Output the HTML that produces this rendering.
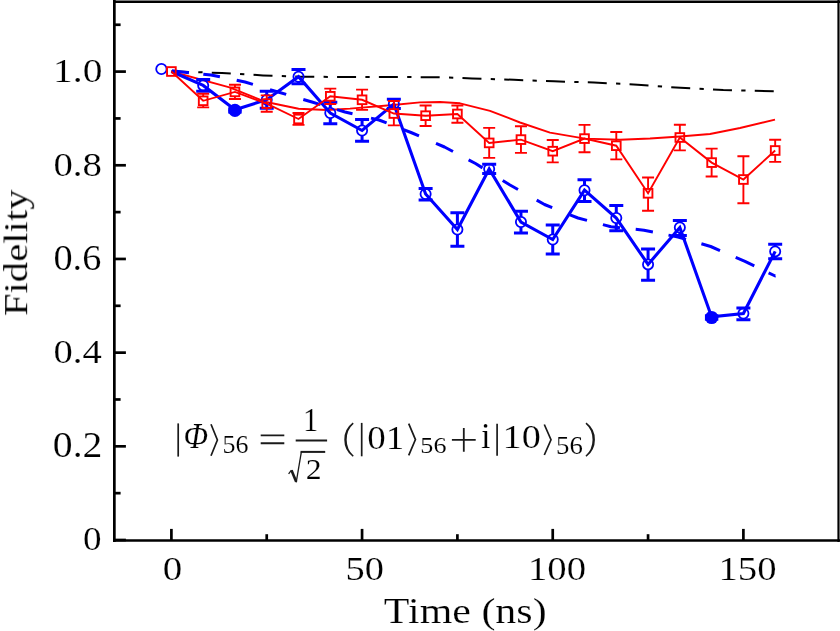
<!DOCTYPE html><html><head><meta charset="utf-8"><style>html,body{margin:0;padding:0;background:#fff;width:840px;height:631px;overflow:hidden}svg{display:block}</style></head><body>
<svg width="840" height="631" viewBox="0 0 840 631">
<rect x="0" y="0" width="840" height="631" fill="#fff"/>
<g stroke="#000" fill="none">
<path stroke-width="2.7" d="M114.35,0 V541.9"/>
<path stroke-width="2.5" d="M113,540.6 H840"/>
<path stroke-width="2.4" d="M113,1.8 H840"/>
<path stroke-width="2.2" d="M838.5,0 V541.9"/>
</g>
<g stroke="#000" stroke-width="2.7" fill="none">
<path d="M114.4,540.00 H125.90"/>
<path d="M114.4,493.16 H120.60"/>
<path d="M114.4,446.32 H125.90"/>
<path d="M114.4,399.48 H120.60"/>
<path d="M114.4,352.64 H125.90"/>
<path d="M114.4,305.80 H120.60"/>
<path d="M114.4,258.96 H125.90"/>
<path d="M114.4,212.12 H120.60"/>
<path d="M114.4,165.28 H125.90"/>
<path d="M114.4,118.44 H120.60"/>
<path d="M114.4,71.60 H125.90"/>
<path d="M114.4,24.76 H120.60"/>
<path d="M171.40,540.4 V528.90"/>
<path d="M266.73,540.4 V534.20"/>
<path d="M362.06,540.4 V528.90"/>
<path d="M457.40,540.4 V534.20"/>
<path d="M552.73,540.4 V528.90"/>
<path d="M648.06,540.4 V534.20"/>
<path d="M743.39,540.4 V528.90"/>
</g>
<polyline points="171.40,71.30 222.00,73.00 263.00,75.40 300.00,76.80 440.00,77.20 472.00,78.50 514.00,79.80 554.00,81.30 594.00,82.50 637.60,84.70 680.50,87.80 723.30,90.00 775.00,91.30" fill="none" stroke="#000" stroke-width="2" stroke-dasharray="19 9.3 4.3 9.2" stroke-dashoffset="1.4"/>
<polyline points="171.40,71.50 229.50,87.40 265.00,101.70 298.60,108.80 327.00,110.00 350.00,108.60 393.00,105.00 420.00,102.40 440.00,102.00 460.00,103.30 490.00,110.80 520.00,122.50 550.00,132.60 585.00,138.60 620.00,139.80 650.00,138.50 680.00,136.50 710.00,134.00 740.00,128.00 775.00,119.60" fill="none" stroke="#f00" stroke-width="1.9" stroke-linejoin="round"/>
<path d="M171.90,70.85 L189.00,72.67 M203.30,74.18 L211.00,75.00 L219.90,76.83 M236.70,80.29 L245.00,82.00 L252.90,84.39 M270.00,89.58 L278.00,92.00 L286.20,94.41 M303.30,99.44 L312.00,102.00 L320.50,104.58 M337.00,109.58 L345.00,112.00 L352.50,113.76 M371.00,118.12 L379.00,120.00 L386.60,122.97 M403.60,129.61 L411.00,132.50 L419.00,135.96 M436.00,143.32 L444.50,147.00 L453.00,151.52 M468.60,159.83 L475.50,163.50 L482.50,167.86 M502.70,180.45 L510.00,185.00 L518.00,189.52 M536.70,200.09 L544.50,204.50 L552.20,207.60 M570.00,214.78 L578.00,218.00 L587.00,220.40 M602.90,224.64 L611.00,226.80 L620.00,227.73 M635.70,229.34 L644.00,230.20 L652.90,231.98 M668.50,235.10 L678.00,237.00 L686.00,239.32 M701.40,243.80 L710.70,246.50 L720.00,250.54 M735.70,257.36 L745.00,261.40 L754.30,265.90 M768.60,272.81 L775.20,276.00 L775.70,276.00" fill="none" stroke="#00f" stroke-width="3" stroke-linejoin="round"/>
<polyline points="171.40,71.50 203.18,85.40 234.96,109.80 266.73,99.70 298.51,76.70 330.29,113.00 362.07,130.50 393.85,104.00 425.62,194.00 457.40,229.50 489.18,169.00 520.96,222.00 552.74,239.50 584.51,190.20 616.29,218.00 648.07,264.40 679.85,227.50 711.63,316.90 743.40,313.50 775.18,251.40" fill="none" stroke="#00f" stroke-width="3.1" stroke-linejoin="miter"/>
<g stroke="#00f" fill="none">
<path stroke-width="3" d="M203.18,79.40 V80.40 M203.18,90.40 V91.30 M196.18,79.40 H210.18 M196.18,91.30 H210.18"/>
<circle cx="203.18" cy="85.40" r="5.1" stroke-width="1.8"/>
<circle cx="234.96" cy="110.40" r="6.6" stroke="none" fill="#00f"/>
<rect x="228.26" y="107.20" width="13.4" height="6.4" stroke="none" fill="#00f"/>
<path stroke-width="3" d="M266.73,91.20 V94.70 M266.73,104.70 V108.20 M259.73,91.20 H273.73 M259.73,108.20 H273.73"/>
<circle cx="266.73" cy="99.70" r="5.1" stroke-width="1.8"/>
<path stroke-width="3" d="M298.51,69.50 V71.70 M298.51,81.70 V83.80 M291.51,69.50 H305.51 M291.51,83.80 H305.51"/>
<circle cx="298.51" cy="76.70" r="5.1" stroke-width="1.8"/>
<path stroke-width="3" d="M330.29,102.30 V108.00 M330.29,118.00 V123.70 M323.29,102.30 H337.29 M323.29,123.70 H337.29"/>
<circle cx="330.29" cy="113.00" r="5.1" stroke-width="1.8"/>
<path stroke-width="3" d="M362.07,119.60 V125.50 M362.07,135.50 V141.20 M355.07,119.60 H369.07 M355.07,141.20 H369.07"/>
<circle cx="362.07" cy="130.50" r="5.1" stroke-width="1.8"/>
<path stroke-width="3" d="M393.85,99.20 V99.00 M393.85,109.00 V108.50 M386.85,99.20 H400.85 M386.85,108.50 H400.85"/>
<circle cx="393.85" cy="104.00" r="5.1" stroke-width="1.8"/>
<path stroke-width="3" d="M425.62,188.60 V189.00 M425.62,199.00 V200.00 M418.62,188.60 H432.62 M418.62,200.00 H432.62"/>
<circle cx="425.62" cy="194.00" r="5.1" stroke-width="1.8"/>
<path stroke-width="3" d="M457.40,212.70 V224.50 M457.40,234.50 V246.30 M450.40,212.70 H464.40 M450.40,246.30 H464.40"/>
<circle cx="457.40" cy="229.50" r="5.1" stroke-width="1.8"/>
<path stroke-width="3" d="M489.18,164.20 V164.00 M489.18,174.00 V173.40 M482.18,164.20 H496.18 M482.18,173.40 H496.18"/>
<circle cx="489.18" cy="169.00" r="5.1" stroke-width="1.8"/>
<path stroke-width="3" d="M520.96,211.20 V217.00 M520.96,227.00 V233.00 M513.96,211.20 H527.96 M513.96,233.00 H527.96"/>
<circle cx="520.96" cy="222.00" r="5.1" stroke-width="1.8"/>
<path stroke-width="3" d="M552.74,225.00 V234.50 M552.74,244.50 V254.00 M545.74,225.00 H559.74 M545.74,254.00 H559.74"/>
<circle cx="552.74" cy="239.50" r="5.1" stroke-width="1.8"/>
<path stroke-width="3" d="M584.51,179.70 V185.20 M584.51,195.20 V201.50 M577.51,179.70 H591.51 M577.51,201.50 H591.51"/>
<circle cx="584.51" cy="190.20" r="5.1" stroke-width="1.8"/>
<path stroke-width="3" d="M616.29,205.40 V213.00 M616.29,223.00 V230.70 M609.29,205.40 H623.29 M609.29,230.70 H623.29"/>
<circle cx="616.29" cy="218.00" r="5.1" stroke-width="1.8"/>
<path stroke-width="3" d="M648.07,248.90 V259.40 M648.07,269.40 V280.30 M641.07,248.90 H655.07 M641.07,280.30 H655.07"/>
<circle cx="648.07" cy="264.40" r="5.1" stroke-width="1.8"/>
<path stroke-width="3" d="M679.85,220.50 V222.50 M679.85,232.50 V235.50 M672.85,220.50 H686.85 M672.85,235.50 H686.85"/>
<circle cx="679.85" cy="227.50" r="5.1" stroke-width="1.8"/>
<circle cx="711.63" cy="317.50" r="6.6" stroke="none" fill="#00f"/>
<rect x="704.93" y="314.30" width="13.4" height="6.4" stroke="none" fill="#00f"/>
<path stroke-width="3" d="M743.40,308.00 V308.50 M743.40,318.50 V319.70 M736.40,308.00 H750.40 M736.40,319.70 H750.40"/>
<circle cx="743.40" cy="313.50" r="5.1" stroke-width="1.8"/>
<path stroke-width="3" d="M775.18,244.30 V246.40 M775.18,256.40 V258.80 M768.18,244.30 H782.18 M768.18,258.80 H782.18"/>
<circle cx="775.18" cy="251.40" r="5.1" stroke-width="1.8"/>
<circle cx="161.4" cy="69" r="5.2" stroke-width="1.8"/>
</g>
<polyline points="171.40,71.50 203.18,100.80 234.96,91.90 266.73,103.60 298.51,119.00 330.29,96.30 362.07,99.80 393.85,113.50 425.62,115.70 457.40,114.00 489.18,142.90 520.96,139.60 552.74,151.20 584.51,138.60 616.29,145.70 648.07,193.30 679.85,137.50 711.63,162.60 743.40,179.50 775.18,150.50" fill="none" stroke="#f00" stroke-width="1.9" stroke-linejoin="miter"/>
<g stroke="#f00" stroke-width="1.9" fill="none">
<rect x="167.05" y="67.15" width="8.7" height="8.7"/>
<path d="M203.18,93.70 V96.45 M203.18,105.15 V107.40 M197.18,93.70 H209.18 M197.18,107.40 H209.18"/>
<rect x="198.83" y="96.45" width="8.7" height="8.7"/>
<path d="M234.96,84.80 V87.55 M234.96,96.25 V99.00 M228.96,84.80 H240.96 M228.96,99.00 H240.96"/>
<rect x="230.61" y="87.55" width="8.7" height="8.7"/>
<path d="M266.73,95.40 V99.25 M266.73,107.95 V111.80 M260.73,95.40 H272.73 M260.73,111.80 H272.73"/>
<rect x="262.38" y="99.25" width="8.7" height="8.7"/>
<path d="M298.51,113.00 V114.65 M298.51,123.35 V124.90 M292.51,113.00 H304.51 M292.51,124.90 H304.51"/>
<rect x="294.16" y="114.65" width="8.7" height="8.7"/>
<path d="M330.29,88.60 V91.95 M330.29,100.65 V104.00 M324.29,88.60 H336.29 M324.29,104.00 H336.29"/>
<rect x="325.94" y="91.95" width="8.7" height="8.7"/>
<path d="M362.07,89.60 V95.45 M362.07,104.15 V109.90 M356.07,89.60 H368.07 M356.07,109.90 H368.07"/>
<rect x="357.72" y="95.45" width="8.7" height="8.7"/>
<path d="M393.85,101.00 V109.15 M393.85,117.85 V125.40 M387.85,101.00 H399.85 M387.85,125.40 H399.85"/>
<rect x="389.50" y="109.15" width="8.7" height="8.7"/>
<path d="M425.62,105.50 V111.35 M425.62,120.05 V126.00 M419.62,105.50 H431.62 M419.62,126.00 H431.62"/>
<rect x="421.27" y="111.35" width="8.7" height="8.7"/>
<path d="M457.40,105.50 V109.65 M457.40,118.35 V122.70 M451.40,105.50 H463.40 M451.40,122.70 H463.40"/>
<rect x="453.05" y="109.65" width="8.7" height="8.7"/>
<path d="M489.18,127.90 V138.55 M489.18,147.25 V157.90 M483.18,127.90 H495.18 M483.18,157.90 H495.18"/>
<rect x="484.83" y="138.55" width="8.7" height="8.7"/>
<path d="M520.96,126.30 V135.25 M520.96,143.95 V152.90 M514.96,126.30 H526.96 M514.96,152.90 H526.96"/>
<rect x="516.61" y="135.25" width="8.7" height="8.7"/>
<path d="M552.74,140.00 V146.85 M552.74,155.55 V162.40 M546.74,140.00 H558.74 M546.74,162.40 H558.74"/>
<rect x="548.39" y="146.85" width="8.7" height="8.7"/>
<path d="M584.51,124.90 V134.25 M584.51,142.95 V152.30 M578.51,124.90 H590.51 M578.51,152.30 H590.51"/>
<rect x="580.16" y="134.25" width="8.7" height="8.7"/>
<path d="M616.29,132.00 V141.35 M616.29,150.05 V159.40 M610.29,132.00 H622.29 M610.29,159.40 H622.29"/>
<rect x="611.94" y="141.35" width="8.7" height="8.7"/>
<path d="M648.07,177.50 V188.95 M648.07,197.65 V210.70 M642.07,177.50 H654.07 M642.07,210.70 H654.07"/>
<rect x="643.72" y="188.95" width="8.7" height="8.7"/>
<path d="M679.85,124.70 V133.15 M679.85,141.85 V150.40 M673.85,124.70 H685.85 M673.85,150.40 H685.85"/>
<rect x="675.50" y="133.15" width="8.7" height="8.7"/>
<path d="M711.63,148.60 V158.25 M711.63,166.95 V176.50 M705.63,148.60 H717.63 M705.63,176.50 H717.63"/>
<rect x="707.28" y="158.25" width="8.7" height="8.7"/>
<path d="M743.40,156.30 V175.15 M743.40,183.85 V203.20 M737.40,156.30 H749.40 M737.40,203.20 H749.40"/>
<rect x="739.05" y="175.15" width="8.7" height="8.7"/>
<path d="M775.18,139.80 V146.15 M775.18,154.85 V161.90 M769.18,139.80 H781.18 M769.18,161.90 H781.18"/>
<rect x="770.83" y="146.15" width="8.7" height="8.7"/>
</g>
<g style="will-change:transform" stroke="#fff" stroke-width="0.5">
<text transform="matrix(0.39509 0 0 0.33529 53.094 82.129)" font-family="Liberation Serif" font-style="normal" font-size="100" fill="#000">1.0</text>
<text transform="matrix(0.38803 0 0 0.33582 53.448 175.728)" font-family="Liberation Serif" font-style="normal" font-size="100" fill="#000">0.8</text>
<text transform="matrix(0.38305 0 0 0.35224 53.468 269.996)" font-family="Liberation Serif" font-style="normal" font-size="100" fill="#000">0.6</text>
<text transform="matrix(0.38655 0 0 0.34627 53.454 363.007)" font-family="Liberation Serif" font-style="normal" font-size="100" fill="#000">0.4</text>
<text transform="matrix(0.39652 0 0 0.34925 52.814 457.101)" font-family="Liberation Serif" font-style="normal" font-size="100" fill="#000">0.2</text>
<text transform="matrix(0.37143 0 0 0.34030 82.914 550.319)" font-family="Liberation Serif" font-style="normal" font-size="100" fill="#000">0</text>
<text transform="matrix(0.39048 0 0 0.34478 162.738 579.710)" font-family="Liberation Serif" font-style="normal" font-size="100" fill="#000">0</text>
<text transform="matrix(0.38444 0 0 0.34179 345.593 579.716)" font-family="Liberation Serif" font-style="normal" font-size="100" fill="#000">50</text>
<text transform="matrix(0.38759 0 0 0.34559 527.912 579.809)" font-family="Liberation Serif" font-style="normal" font-size="100" fill="#000">100</text>
<text transform="matrix(0.38686 0 0 0.34559 718.518 579.809)" font-family="Liberation Serif" font-style="normal" font-size="100" fill="#000">150</text>
<text transform="matrix(0.41963 0 0 0.36031 383.861 623.200)" font-family="Liberation Serif" font-size="100" fill="#000">Time (ns)</text>
<text transform="translate(27.540 316.122) rotate(-90) scale(0.40747 0.32667)" font-family="Liberation Serif" font-size="100" fill="#000">Fidelity</text>
<text transform="matrix(0.32353 0 0 0.35385 183.382 448.000)" font-family="Liberation Serif" font-style="italic" font-size="100" fill="#000">Φ</text>
<text transform="matrix(0.25934 0 0 0.24179 222.544 453.416)" font-family="Liberation Serif" font-style="normal" font-size="100" fill="#000">56</text>
<text transform="matrix(0.30571 0 0 0.34545 302.949 430.700)" font-family="Liberation Serif" font-style="normal" font-size="100" fill="#000">1</text>
<text transform="matrix(0.31750 0 0 0.30462 305.630 478.800)" font-family="Liberation Serif" font-style="normal" font-size="100" fill="#000">2</text>
<text transform="matrix(0.37056 0 0 0.34412 367.268 448.512)" font-family="Liberation Serif" font-style="normal" font-size="100" fill="#000">01</text>
<text transform="matrix(0.26154 0 0 0.24030 420.331 453.219)" font-family="Liberation Serif" font-style="normal" font-size="100" fill="#000">56</text>
<text transform="matrix(0.34583 0 0 0.34769 481.008 448.100)" font-family="Liberation Serif" font-style="normal" font-size="100" fill="#000">i</text>
<text transform="matrix(0.38276 0 0 0.34118 502.555 448.018)" font-family="Liberation Serif" font-style="normal" font-size="100" fill="#000">10</text>
<text transform="matrix(0.26813 0 0 0.24776 556.091 453.504)" font-family="Liberation Serif" font-style="normal" font-size="100" fill="#000">56</text>
</g>
<g stroke="#1a1a1a" fill="none" stroke-width="1.7">
<path d="M178.20,423.40 V456.60"/>
<path d="M361.70,422.90 V456.30"/>
<path d="M497.10,423.70 V455.80"/>
<path d="M211.00,424.20 L217.40,440.00 L211.00,455.80"/>
<path d="M408.70,423.70 L415.45,439.57 L408.70,455.45"/>
<path d="M544.30,424.50 L551.00,439.75 L544.30,455.00"/>
<path stroke-width="2" d="M295.7,440.5 H327.1"/>
<path stroke-width="1.9" d="M260.7,435.4 H284.3 M260.7,443.2 H284.3"/>
<path stroke-width="1.8" d="M451.9,439.8 H475.7 M463.8,427.9 V451.7"/>
<path stroke-width="1.5" d="M353.2,423.2 C342.3,431.5 342.3,447.9 353.2,456.2 M353.2,423.2 C343.5,431.5 343.5,447.9 353.2,456.2"/>
<path stroke-width="1.5" d="M586.0,423.2 C596.9,431.5 596.9,447.9 586.0,456.2 M586.0,423.2 C595.7,431.5 595.7,447.9 586.0,456.2"/>
<path stroke-width="2" d="M300.6,451.9 H325.2"/>
<path stroke-width="1.3" d="M288.6,473.8 L291.5,470.2"/>
<path stroke-width="2.6" d="M291.5,470.2 L296.2,481.8"/>
<path stroke-width="1.3" d="M296.2,482.4 L301.4,451.6"/>
</g>
</svg></body></html>
